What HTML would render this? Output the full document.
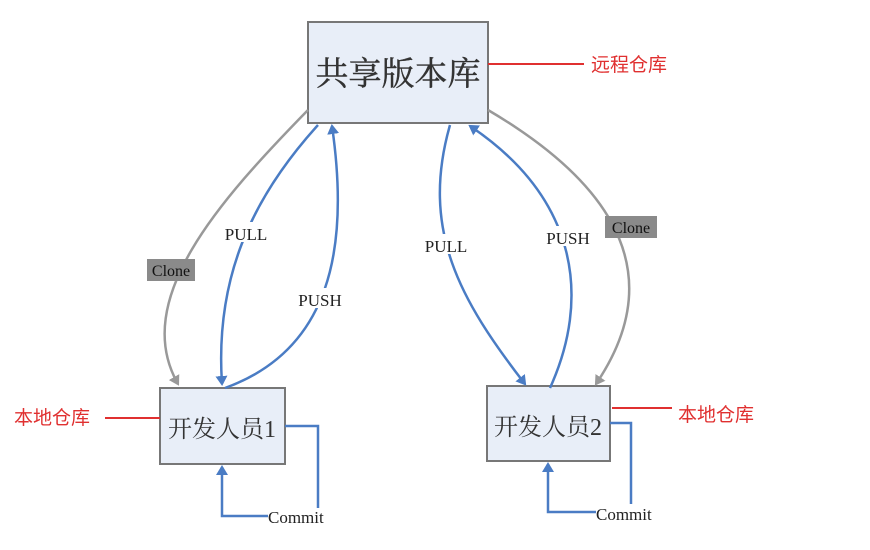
<!DOCTYPE html>
<html><head><meta charset="utf-8"><style>
body{margin:0;background:#fff;width:870px;height:545px;overflow:hidden}
svg text{font-family:"Liberation Serif","Noto Serif CJK SC",serif}
</style></head><body>
<svg width="870" height="545" viewBox="0 0 870 545">
<defs>
<marker id="b" markerWidth="10" markerHeight="12" refX="8" refY="6" orient="auto" markerUnits="userSpaceOnUse"><path d="M0,0 L10,6 L0,12 z" fill="#4a7cc4"/></marker>
<marker id="g" markerWidth="10" markerHeight="12" refX="8" refY="6" orient="auto" markerUnits="userSpaceOnUse"><path d="M0,0 L10,6 L0,12 z" fill="#999"/></marker>
</defs>
<rect x="308" y="22" width="180" height="101" fill="#e8eef8" stroke="#777" stroke-width="2"/>
<text x="398" y="85" font-size="33" text-anchor="middle" fill="#333" stroke="#333" stroke-width="0.4">共享版本库</text>
<rect x="160" y="388" width="125" height="76" fill="#e8eef8" stroke="#777" stroke-width="2"/>
<text x="222" y="437" font-size="24" text-anchor="middle" fill="#333">开发人员1</text>
<rect x="487" y="386" width="123" height="75" fill="#e8eef8" stroke="#777" stroke-width="2"/>
<text x="548" y="435" font-size="24" text-anchor="middle" fill="#333">开发人员2</text>
<g fill="none" stroke-width="2.5">
<path d="M308,110 C220,200 130,300 178,384" stroke="#999" marker-end="url(#g)"/>
<path d="M488,110 C590,170 680,260 596,384" stroke="#999" marker-end="url(#g)"/>
<path d="M318,125 C250,200 215,280 222,384" stroke="#4a7cc4" marker-end="url(#b)"/>
<path d="M225,388 C330,350 350,250 332,126" stroke="#4a7cc4" marker-end="url(#b)"/>
<path d="M450,125 C420,230 460,300 525,384" stroke="#4a7cc4" marker-end="url(#b)"/>
<path d="M550,388 C590,300 580,200 470,126" stroke="#4a7cc4" marker-end="url(#b)"/>
<path d="M285,426 H318 V508" stroke="#4a7cc4"/>
<path d="M268,516 H222 V467" stroke="#4a7cc4" marker-end="url(#b)"/>
<path d="M610,423 H631 V504" stroke="#4a7cc4"/>
<path d="M596,512 H548 V464" stroke="#4a7cc4" marker-end="url(#b)"/>
<path d="M488,64 H584" stroke="#e03030" stroke-width="2"/>
<path d="M105,418 H160" stroke="#e03030" stroke-width="2"/>
<path d="M612,408 H672" stroke="#e03030" stroke-width="2"/>
</g>
<rect x="220" y="222" width="52" height="20" fill="#fff"/><text x="246" y="240" font-size="17" text-anchor="middle" fill="#222">PULL</text>
<rect x="292" y="288" width="56" height="20" fill="#fff"/><text x="320" y="306" font-size="17" text-anchor="middle" fill="#222">PUSH</text>
<rect x="420" y="234" width="52" height="20" fill="#fff"/><text x="446" y="252" font-size="17" text-anchor="middle" fill="#222">PULL</text>
<rect x="540" y="226" width="56" height="20" fill="#fff"/><text x="568" y="244" font-size="17" text-anchor="middle" fill="#222">PUSH</text>
<rect x="147" y="259" width="48" height="22" fill="#8a8a8a"/><text x="171" y="276" font-size="16" text-anchor="middle" fill="#111">Clone</text>
<rect x="605" y="216" width="52" height="22" fill="#8a8a8a"/><text x="631" y="233" font-size="16" text-anchor="middle" fill="#111">Clone</text>
<text x="268" y="523" font-size="17" fill="#222">Commit</text>
<text x="596" y="520" font-size="17" fill="#222">Commit</text>
<text x="591" y="71" font-size="19" fill="#e03030" style="font-family:'Liberation Sans','Noto Sans CJK SC',sans-serif">远程仓库</text>
<text x="14" y="424" font-size="19" fill="#e03030" style="font-family:'Liberation Sans','Noto Sans CJK SC',sans-serif">本地仓库</text>
<text x="678" y="421" font-size="19" fill="#e03030" style="font-family:'Liberation Sans','Noto Sans CJK SC',sans-serif">本地仓库</text>
</svg>
</body></html>
